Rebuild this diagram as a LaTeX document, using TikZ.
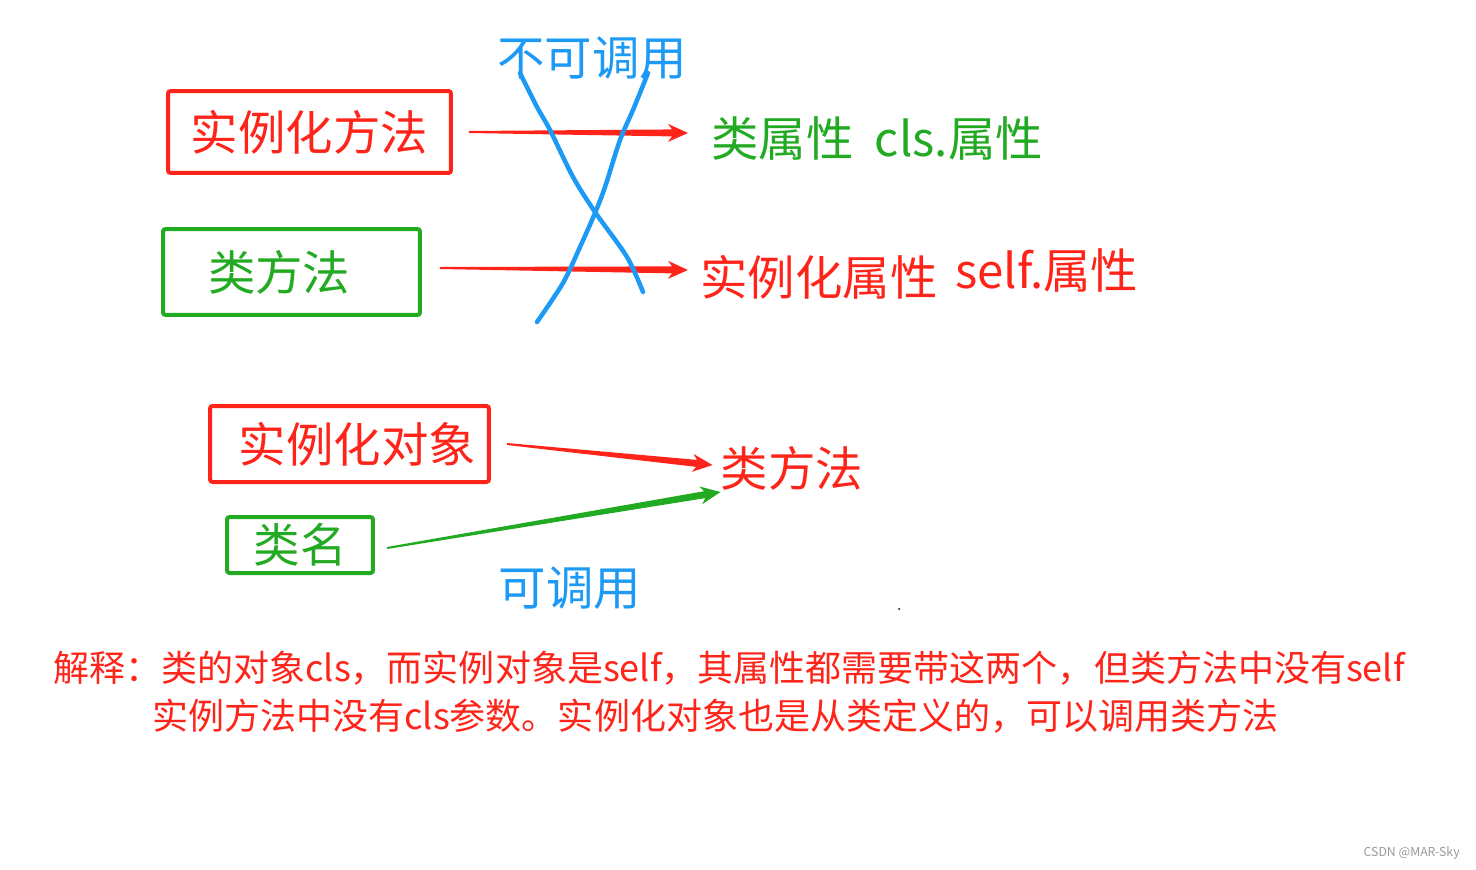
\documentclass[tikz,border=0pt]{standalone}
\usepackage{fontspec}
\usepackage{tikz}
\usetikzlibrary{calc}
\newfontfamily\cjk{Noto Sans CJK SC}
\definecolor{hot}{HTML}{FF2419}
\definecolor{leaf}{HTML}{22AA22}
\definecolor{sky}{HTML}{1C9AF5}
\definecolor{mute}{HTML}{9A9A9A}
\tikzset{
  big/.style={inner sep=0pt,font=\cjk\fontsize{27}{27}\selectfont},
  note/.style={inner sep=0pt,font=\cjk\fontsize{20.5}{20.5}\selectfont,text=hot},
  frame/.style={draw=#1,text=#1,line width=0.08cm,rounded corners=1.5pt,inner sep=0pt,font=\cjk\fontsize{27}{27}\selectfont},
  pen/.style={sky,line width=0.09cm,line cap=round,line join=round}
}
\newcommand\taperarrow[3]{%
  \coordinate (tj) at ($(#3)!0.32cm!(#2)$);
  \coordinate (tb) at ($(#3)!0.4cm!(#2)$);
  \fill[#1] ($(#2)!0.02cm!90:(#3)$) -- ($(tj)!0.07cm!90:(#3)$) -- ($(tb)!0.18cm!90:(#3)$) -- (#3)
    -- ($(tb)!0.18cm!-90:(#3)$) -- ($(tj)!0.07cm!-90:(#3)$) -- ($(#2)!0.02cm!-90:(#3)$) -- cycle;
}

\begin{document}
\begin{tikzpicture}[x=0.02cm,y=-0.02cm]
\fill[white] (0,0) rectangle (1476,869);
\node[frame=hot,minimum width=5.66cm,minimum height=1.64cm] (mInst) at (309.5,132) {实例化方法};
\node[frame=leaf,minimum width=5.14cm,minimum height=1.72cm,text width=3.34cm,inner xsep=0.9cm,align=left] (mCls) at (291.5,272) {类方法};
\node[frame=hot,minimum width=5.58cm,minimum height=1.52cm] (oInst) at (349.5,444) {\hspace{0.32cm}实例化对象};
\node[frame=leaf,minimum width=2.92cm,minimum height=1.12cm,font=\cjk\fontsize{26.5}{26.5}\selectfont] (cName) at (300,545) {类名\hspace{0.26cm}};

\node[big,text=leaf,anchor=west] (aCls) at (711,138) {类属性\hspace{0.45em}cls.属性};
\node[big,text=hot,anchor=west] (aInst) at (700,277) {实例化属性};
\node[big,text=hot,anchor=west] (aSelf) at (955,270) {self.属性};
\node[big,text=hot] (mCls2) at (792,468) {类方法};
\node[big,text=sky] (tNo) at (592,58) {不可调用};
\node[big,text=sky] (tYes) at (570,588) {可调用};

\node[note,anchor=west] (exp1) at (53,668) {解释：类的对象cls，而实例对象是self，其属性都需要带这两个，但类方法中没有self};
\node[note,anchor=west] (exp2) at (152,716) {实例方法中没有cls参数。实例化对象也是从类定义的，可以调用类方法};
\node[inner sep=0pt,anchor=east,text=mute,font=\cjk\fontsize{7}{7}\selectfont] (mark) at (1460,853) {CSDN @MAR-Sky};
\fill (899,609) circle (0.02cm);

\coordinate (s1) at ($(mInst.east)+(16,0)$);
\coordinate (e1) at ($(aCls.west)+(-23,-5)$);
\coordinate (s2) at ($(mCls.east)+(18,-4)$);
\coordinate (e2) at ($(aInst.west)+(-12,-7)$);
\coordinate (s3) at ($(oInst.east)+(16,0)$);
\coordinate (e3) at ($(mCls2.west)+(-8,-3)$);
\coordinate (s4) at ($(cName.east)+(12,3)$);
\coordinate (e4) at ($(mCls2.west)+(0,24)$);
\taperarrow{hot}{s1}{e1}
\taperarrow{hot}{s2}{e2}
\taperarrow{hot}{s3}{e3}
\taperarrow{leaf}{s4}{e4}

\draw[pen] plot[smooth] coordinates {(520,73) (537,107) (550,130) (573,177) (595,212) (627,257) (643,292)};
\draw[pen] plot[smooth] coordinates {(648,73) (633,110) (620,140) (605,187) (595,213) (580,247) (563,283) (537,322)};
\end{tikzpicture}
\end{document}
